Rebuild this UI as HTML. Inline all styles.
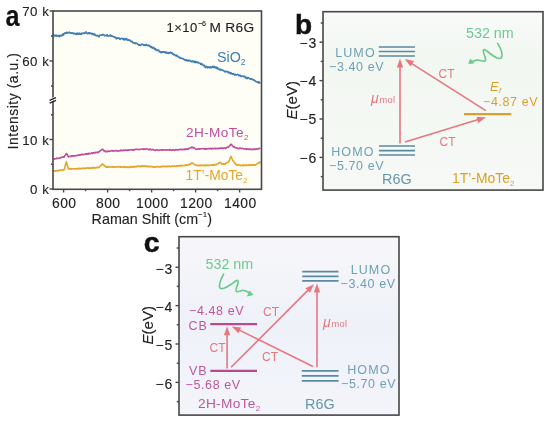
<!DOCTYPE html>
<html><head><meta charset="utf-8"><style>
html,body{margin:0;padding:0;background:#fff;width:550px;height:422px;overflow:hidden}
svg{display:block;filter:blur(0.3px)}
</style></head><body>
<svg width="550" height="422" viewBox="0 0 550 422">
<defs>
<linearGradient id="gb" x1="0" y1="0" x2="0" y2="1"><stop offset="0" stop-color="#f8fbf8"/><stop offset="0.25" stop-color="#f3f7f2"/><stop offset="1" stop-color="#f6f9f5"/></linearGradient>
<linearGradient id="gc" x1="0" y1="0" x2="0" y2="1"><stop offset="0" stop-color="#f7f7fa"/><stop offset="0.5" stop-color="#eff1f9"/><stop offset="1" stop-color="#f4f5fb"/></linearGradient>
</defs>
<rect x="53" y="11" width="208.5" height="178.3" fill="#fefef7"/>
<polyline points="53.5,35.3 54.0,35.1 54.4,36.0 54.9,35.2 55.3,35.9 55.8,35.7 56.2,35.3 56.7,36.1 57.2,35.4 57.6,36.1 58.1,35.6 58.5,35.7 59.0,36.3 59.5,36.7 59.9,35.4 60.4,35.3 60.9,35.7 61.4,36.0 61.8,35.2 62.3,34.7 62.8,35.3 63.2,33.7 63.7,34.7 64.2,33.6 64.6,33.2 65.1,32.9 65.6,33.0 66.1,33.5 66.5,32.3 67.0,32.7 67.5,32.9 67.9,32.5 68.4,32.8 68.8,32.2 69.3,32.2 69.8,32.5 70.2,33.2 70.7,32.9 71.2,32.8 71.6,33.3 72.1,33.1 72.5,32.9 73.0,33.7 73.5,33.7 73.9,33.0 74.4,33.6 74.8,33.6 75.3,34.1 75.8,34.0 76.2,33.4 76.7,34.5 77.2,33.2 77.6,33.7 78.1,34.3 78.5,33.4 79.0,34.0 79.5,33.2 79.9,34.1 80.4,34.1 80.9,33.7 81.3,34.1 81.8,33.2 82.3,33.6 82.7,33.4 83.2,33.3 83.7,33.0 84.1,33.5 84.6,33.5 85.1,32.7 85.5,32.9 86.0,31.9 86.5,33.0 86.9,33.0 87.4,33.7 87.9,33.5 88.4,32.8 88.8,33.1 89.3,33.6 89.8,32.7 90.2,33.5 90.7,33.2 91.2,33.2 91.6,33.2 92.1,34.4 92.6,33.5 93.1,33.8 93.5,34.1 94.0,35.0 94.5,33.9 94.9,34.7 95.4,35.0 95.8,35.6 96.3,35.7 96.7,35.9 97.2,35.2 97.6,35.6 98.1,35.7 98.5,36.6 99.0,36.9 99.5,35.5 100.0,35.3 100.5,35.2 101.0,35.0 101.5,35.2 102.0,35.1 102.5,34.7 102.9,34.3 103.4,35.0 103.9,34.9 104.4,35.3 104.8,35.9 105.3,35.5 105.8,35.3 106.2,35.5 106.7,35.6 107.2,34.7 107.6,36.0 108.1,35.9 108.6,36.1 109.1,36.0 109.5,35.4 110.0,35.4 110.5,35.2 110.9,36.2 111.4,35.5 111.8,35.8 112.3,36.2 112.8,36.3 113.2,36.8 113.7,36.5 114.2,36.7 114.6,37.1 115.1,37.2 115.5,37.8 116.0,37.5 116.5,38.8 116.9,38.5 117.4,37.8 117.8,38.0 118.3,38.2 118.8,38.3 119.2,38.0 119.7,39.2 120.2,39.4 120.6,38.7 121.1,38.8 121.5,38.2 122.0,38.3 122.5,38.7 122.9,38.7 123.4,39.6 123.8,38.6 124.3,38.5 124.8,39.9 125.2,39.3 125.7,38.8 126.2,39.4 126.6,38.7 127.1,39.5 127.5,40.3 128.0,40.1 128.5,40.1 128.9,39.7 129.4,40.1 129.8,40.0 130.3,41.1 130.7,41.0 131.2,41.6 131.6,41.2 132.1,41.2 132.5,42.3 133.0,42.8 133.5,42.9 133.9,43.0 134.4,43.3 134.8,43.4 135.3,42.8 135.7,43.5 136.2,43.5 136.6,43.2 137.1,43.4 137.5,44.0 138.0,44.2 138.5,44.9 138.9,45.3 139.4,44.6 139.8,45.3 140.3,45.4 140.7,45.4 141.2,44.5 141.6,44.3 142.1,44.4 142.5,44.3 143.0,44.4 143.5,45.0 143.9,45.4 144.4,45.4 144.8,44.8 145.3,45.1 145.7,45.4 146.2,44.3 146.6,45.2 147.1,45.6 147.5,45.4 148.0,45.4 148.5,45.2 148.9,45.1 149.4,46.2 149.9,45.8 150.3,46.8 150.8,47.3 151.3,46.7 151.7,47.0 152.2,48.1 152.7,48.0 153.1,47.4 153.6,47.6 154.1,47.9 154.5,49.3 155.0,49.5 155.5,48.7 155.9,50.0 156.4,50.4 156.8,50.2 157.3,49.9 157.8,50.5 158.2,50.1 158.7,50.1 159.2,51.8 159.6,51.5 160.1,51.6 160.5,52.4 161.0,51.9 161.5,52.6 161.9,52.6 162.4,51.7 162.8,51.8 163.3,51.9 163.7,51.9 164.2,52.4 164.6,52.0 165.1,52.3 165.5,51.9 166.0,53.1 166.5,52.3 166.9,52.5 167.4,52.8 167.8,53.3 168.3,52.6 168.7,53.4 169.2,52.8 169.6,52.9 170.1,52.9 170.5,52.2 171.0,52.9 171.5,52.8 171.9,52.7 172.4,54.1 172.8,53.4 173.3,54.1 173.7,54.7 174.2,54.7 174.6,54.6 175.1,55.1 175.5,55.4 176.0,55.9 176.5,55.1 176.9,56.0 177.4,55.8 177.8,56.1 178.3,57.0 178.7,56.9 179.2,57.2 179.6,57.7 180.1,58.2 180.5,57.7 181.0,58.2 181.5,58.2 181.9,58.4 182.4,58.8 182.9,58.6 183.4,58.9 183.8,59.0 184.3,59.9 184.8,59.7 185.2,60.2 185.7,60.4 186.2,59.6 186.6,60.2 187.1,61.0 187.6,61.0 188.1,60.1 188.5,60.3 189.0,60.9 189.5,60.4 189.9,60.7 190.4,60.5 190.9,61.5 191.4,61.7 191.8,61.9 192.3,60.9 192.8,61.8 193.2,61.8 193.7,61.1 194.2,62.2 194.6,62.4 195.1,61.3 195.6,62.5 196.1,61.7 196.5,61.9 197.0,62.7 197.5,62.7 197.9,62.0 198.4,62.6 198.8,63.0 199.3,63.0 199.7,63.0 200.2,63.4 200.6,64.3 201.1,63.5 201.5,64.5 202.0,64.6 202.5,64.2 202.9,64.9 203.4,65.6 203.8,65.7 204.3,65.3 204.7,66.9 205.2,66.9 205.6,67.4 206.1,66.3 206.5,66.8 207.0,66.7 207.5,67.8 207.9,67.0 208.4,66.8 208.9,67.2 209.4,67.9 209.8,67.7 210.3,66.9 210.8,66.7 211.2,67.8 211.7,67.3 212.2,67.4 212.6,66.5 213.1,66.4 213.6,67.4 214.1,66.9 214.5,66.4 215.0,67.7 215.5,67.4 215.9,67.9 216.4,67.1 216.9,68.5 217.4,67.5 217.8,69.0 218.3,68.6 218.8,68.6 219.2,69.2 219.7,70.0 220.2,69.2 220.6,69.3 221.1,70.1 221.6,69.9 222.1,69.9 222.5,70.3 223.0,70.3 223.5,70.7 223.9,71.0 224.4,71.1 224.8,71.9 225.3,71.3 225.8,71.8 226.2,71.4 226.7,71.8 227.2,71.5 227.6,71.9 228.1,71.7 228.5,72.9 229.0,72.8 229.5,72.4 229.9,72.9 230.4,73.7 230.8,72.6 231.3,73.8 231.8,73.4 232.2,73.6 232.7,74.2 233.2,73.7 233.6,74.0 234.1,74.4 234.5,75.0 235.0,74.2 235.5,75.0 235.9,74.9 236.4,75.0 236.8,74.7 237.3,74.8 237.7,74.4 238.2,74.7 238.6,74.7 239.1,75.8 239.5,75.2 240.0,75.2 240.5,75.2 240.9,76.4 241.4,76.6 241.8,76.4 242.3,76.0 242.7,76.0 243.2,76.2 243.6,76.6 244.1,76.2 244.5,76.8 245.0,76.6 245.5,77.9 245.9,78.1 246.4,77.6 246.8,77.3 247.3,78.6 247.7,77.8 248.2,78.0 248.6,77.7 249.1,78.4 249.6,78.7 250.0,78.9 250.5,78.7 250.9,79.3 251.4,78.7 251.8,79.3 252.3,79.2 252.8,79.8 253.2,79.5 253.7,79.6 254.1,80.2 254.6,80.3 255.0,81.0 255.5,81.1 255.9,81.6 256.4,81.6 256.9,81.9 257.3,82.3 257.8,81.8 258.2,81.9 258.7,83.0 259.1,81.9 259.6,83.0 260.0,83.0 260.5,83.0" fill="none" stroke="#3f7db3" stroke-width="1.6" stroke-linejoin="round"/>
<polyline points="53.5,158.6 54.0,159.2 54.5,159.1 55.0,158.8 55.5,158.8 56.0,158.8 56.5,158.1 57.0,158.4 57.5,158.2 58.0,158.4 58.5,158.3 59.0,158.2 59.5,157.9 60.0,158.1 60.5,157.8 61.0,157.7 61.5,157.3 62.0,157.0 62.5,157.0 63.0,157.1 63.5,156.8 64.0,157.3 64.6,156.1 65.2,155.3 65.8,154.4 66.4,153.5 66.9,154.2 67.4,154.6 67.9,156.0 68.4,156.8 68.9,156.5 69.4,156.5 69.9,156.5 70.4,156.0 70.9,156.4 71.4,156.0 71.9,155.8 72.4,155.9 72.9,156.2 73.4,155.7 73.9,156.0 74.5,156.1 75.0,155.7 75.5,155.5 76.0,155.5 76.5,155.6 77.0,155.6 77.5,155.4 78.0,155.4 78.5,154.9 79.0,154.9 79.5,154.9 80.0,155.2 80.5,154.8 81.0,154.9 81.5,154.4 82.0,154.3 82.5,154.4 83.0,154.7 83.5,154.6 84.0,154.5 84.5,154.1 85.0,154.2 85.5,154.1 86.0,154.0 86.5,153.7 87.0,154.2 87.5,153.6 88.0,154.1 88.5,154.0 89.0,153.2 89.5,153.5 90.0,153.7 90.5,153.7 91.0,153.2 91.5,153.0 92.0,152.9 92.5,153.4 93.0,152.7 93.5,152.9 94.0,152.5 94.5,152.7 95.0,153.0 95.5,152.3 96.0,152.7 96.5,152.4 97.0,152.6 97.5,152.4 98.0,151.9 98.5,152.4 99.0,152.0 99.6,151.2 100.1,150.7 100.7,150.7 101.3,150.2 101.8,149.7 102.4,149.1 102.9,149.7 103.4,150.1 104.0,150.9 104.5,150.6 105.0,151.6 105.5,151.6 106.0,151.0 106.5,151.7 107.0,151.5 107.5,151.6 108.0,151.1 108.5,151.1 109.0,151.1 109.5,151.5 110.0,151.2 110.5,151.0 111.0,151.0 111.5,150.9 112.0,150.6 112.5,150.7 113.0,151.2 113.5,150.8 114.0,151.2 114.5,150.7 115.0,150.7 115.5,150.8 116.0,150.5 116.5,150.7 117.0,151.1 117.5,151.0 118.0,150.9 118.5,150.7 119.0,150.9 119.5,150.9 120.0,150.6 120.5,150.7 121.0,150.1 121.5,150.7 122.0,150.4 122.5,150.6 123.0,150.5 123.5,150.2 124.0,150.0 124.5,150.6 125.0,150.0 125.5,150.2 126.0,150.1 126.5,150.0 127.0,150.4 127.5,150.5 128.0,149.9 128.5,150.2 129.0,149.9 129.5,150.1 130.0,149.9 130.5,149.7 131.0,149.7 131.5,149.7 132.0,150.2 132.5,149.8 133.0,149.6 133.5,150.1 134.0,150.1 134.5,149.7 135.0,149.4 135.5,149.4 136.0,149.3 136.5,149.5 137.0,149.2 137.5,149.3 138.0,149.3 138.5,149.5 139.0,149.7 139.5,149.6 140.0,149.3 140.5,149.3 141.0,149.3 141.5,149.2 142.0,149.1 142.5,148.9 143.0,149.0 143.5,149.5 144.0,148.8 144.5,149.1 145.0,149.2 145.5,149.3 146.0,148.8 146.5,148.9 147.0,148.9 147.5,149.1 148.0,149.2 148.5,149.6 149.0,149.6 149.5,149.7 150.0,149.1 150.5,149.1 151.0,149.7 151.5,149.9 152.0,149.6 152.5,149.8 153.0,149.4 153.5,149.7 154.0,150.2 154.5,150.2 155.0,150.3 155.5,150.4 156.0,149.8 156.5,149.7 157.0,149.7 157.5,150.0 158.0,150.1 158.5,150.4 159.0,150.2 159.5,150.1 160.0,150.2 160.5,150.0 161.0,150.0 161.5,149.6 162.0,150.2 162.5,149.8 163.0,150.3 163.5,150.1 164.0,149.8 164.5,149.7 165.0,149.8 165.5,150.1 166.0,150.2 166.5,149.7 167.0,149.7 167.5,150.0 168.0,150.1 168.5,149.9 169.0,149.8 169.5,150.1 170.0,149.6 170.5,149.8 171.0,150.0 171.5,150.4 172.0,150.1 172.5,150.3 173.0,150.0 173.5,149.8 174.0,149.8 174.5,150.4 175.0,150.2 175.5,149.8 176.0,149.5 176.5,149.9 177.0,150.0 177.5,149.7 178.0,149.6 178.5,149.9 179.0,150.0 179.5,149.4 180.0,149.2 180.5,149.4 181.0,149.5 181.5,149.6 182.0,149.2 182.5,149.7 183.0,149.6 183.5,149.4 184.0,149.1 184.5,149.6 185.0,149.1 185.5,149.4 186.0,148.9 186.5,148.9 187.0,149.3 187.5,148.9 188.0,149.4 188.5,148.8 189.0,148.3 189.5,148.1 190.0,148.0 190.5,148.0 191.0,148.0 191.5,147.1 192.0,147.1 192.5,147.2 193.0,148.0 193.5,147.6 194.0,147.7 194.5,148.0 195.0,148.5 195.5,149.1 196.0,149.3 196.5,149.2 197.0,149.4 197.5,149.3 198.0,148.8 198.5,148.7 199.0,149.3 199.5,149.1 200.0,148.5 200.5,149.0 201.0,148.8 201.5,148.8 202.0,148.7 202.5,148.6 203.0,148.5 203.5,148.7 204.0,148.7 204.5,149.2 205.0,148.5 205.5,149.2 206.0,148.6 206.5,148.7 207.0,149.0 207.5,149.0 208.0,148.7 208.5,148.4 209.0,148.7 209.5,148.6 210.0,149.0 210.5,148.4 211.0,148.6 211.5,149.0 212.0,148.3 212.5,148.6 213.0,148.9 213.5,148.8 214.0,148.3 214.5,148.2 215.0,148.3 215.5,148.9 216.0,148.4 216.5,148.7 217.0,148.8 217.5,148.3 218.0,148.3 218.5,148.8 219.0,148.5 219.5,148.2 220.0,148.5 220.5,148.2 221.0,148.1 221.5,147.8 222.0,148.4 222.5,148.5 223.0,148.3 223.5,148.5 224.0,147.7 224.5,147.9 225.0,148.0 225.5,148.4 226.0,148.4 226.5,147.7 227.0,147.3 227.5,147.2 228.0,147.0 228.5,147.1 229.0,146.2 229.5,146.1 230.0,145.4 230.5,144.9 231.0,144.2 231.5,144.7 232.0,145.1 232.5,145.7 233.0,146.4 233.5,147.0 234.0,146.7 234.5,147.0 235.0,147.7 235.5,147.5 236.0,147.7 236.5,147.7 237.0,148.1 237.5,148.0 238.0,148.6 238.5,148.5 239.0,148.7 239.5,148.1 240.0,148.0 240.5,148.1 241.0,148.5 241.5,148.7 242.0,148.5 242.5,148.4 243.0,148.6 243.5,148.8 244.0,148.9 244.5,149.0 245.0,149.1 245.5,149.0 246.0,148.6 246.5,149.3 247.0,148.9 247.5,149.1 248.0,149.0 248.5,149.4 249.0,149.0 249.5,149.1 250.0,149.1 250.5,149.1 251.0,149.7 251.5,149.4 252.0,149.2 252.5,149.2 253.0,149.6 253.5,149.2 254.0,148.9 254.5,149.4 255.0,149.2 255.5,149.4 256.0,148.7 256.5,148.9 257.0,149.2 257.5,149.1 258.0,149.1 258.5,148.4 259.0,148.6 259.5,148.4 260.0,148.4 260.5,148.6" fill="none" stroke="#bf4f9d" stroke-width="1.6" stroke-linejoin="round"/>
<polyline points="53.5,171.4 54.0,171.0 54.5,171.2 55.0,170.8 55.5,171.1 56.0,170.7 56.5,170.5 57.0,170.9 57.5,171.0 58.0,170.3 58.5,170.6 59.0,170.6 59.5,170.2 60.0,170.3 60.5,170.0 61.0,170.0 61.5,170.0 62.0,170.3 62.5,170.3 63.0,169.9 63.5,169.7 64.0,169.9 64.6,168.1 65.2,165.7 65.8,163.8 66.4,161.8 66.9,164.0 67.4,165.5 67.9,166.9 68.4,168.7 68.9,168.9 69.4,169.0 69.9,169.1 70.4,168.6 70.9,168.6 71.4,169.1 71.9,168.8 72.4,168.7 72.9,168.7 73.4,169.2 73.9,168.7 74.5,168.8 75.0,168.7 75.5,168.7 76.0,169.0 76.5,169.1 77.0,168.6 77.5,168.4 78.0,168.9 78.5,168.4 79.0,168.2 79.5,168.9 80.0,168.5 80.5,168.8 81.0,168.5 81.5,168.8 82.0,168.4 82.5,168.2 83.0,168.0 83.5,168.4 84.0,168.5 84.5,168.6 85.0,168.0 85.5,168.4 86.0,168.1 86.5,168.2 87.0,167.9 87.5,168.0 88.0,168.1 88.5,168.4 89.0,167.7 89.5,168.0 90.0,168.2 90.5,168.3 91.0,167.7 91.5,167.6 92.0,168.2 92.5,168.2 93.0,167.8 93.5,167.4 94.0,168.1 94.5,167.6 95.0,168.0 95.5,167.7 96.0,167.8 96.5,167.3 97.0,167.8 97.5,167.3 98.0,167.4 98.5,167.7 99.0,167.7 99.6,166.6 100.1,166.0 100.7,165.6 101.3,165.1 101.8,164.5 102.4,163.7 102.9,164.2 103.4,165.0 103.9,165.6 104.5,165.3 105.0,166.2 105.5,166.8 106.0,166.6 106.5,167.3 107.0,166.7 107.5,167.1 108.0,167.0 108.5,167.1 109.0,166.8 109.5,166.9 110.0,167.1 110.5,166.9 111.0,167.1 111.5,167.0 112.0,167.0 112.5,166.6 113.0,167.1 113.5,167.0 114.0,166.8 114.5,167.2 115.0,167.2 115.5,167.0 116.0,166.7 116.5,167.0 117.0,166.7 117.5,166.7 118.0,166.9 118.5,166.7 119.0,167.0 119.5,167.0 120.0,166.6 120.5,167.1 121.0,166.7 121.5,167.2 122.0,167.2 122.5,167.0 123.0,166.6 123.5,167.0 124.0,166.9 124.5,167.4 125.0,166.7 125.5,167.3 126.0,167.4 126.5,167.2 127.0,167.3 127.5,166.8 128.0,167.4 128.5,167.0 129.0,167.4 129.5,167.3 130.0,166.7 130.5,167.2 131.0,167.3 131.5,166.5 132.0,166.7 132.5,167.0 133.0,166.5 133.5,167.1 134.0,166.5 134.5,166.9 135.0,166.4 135.5,166.6 136.0,166.9 136.5,166.3 137.0,166.3 137.5,166.5 138.0,166.3 138.5,166.0 139.0,166.1 139.5,166.1 140.0,166.6 140.5,166.4 141.0,166.5 141.5,165.9 142.0,166.4 142.5,165.8 143.0,166.1 143.5,166.1 144.0,165.9 144.5,166.3 145.0,166.1 145.5,166.2 146.0,166.5 146.5,165.9 147.0,166.7 147.5,166.4 148.0,166.3 148.5,166.6 149.0,166.3 149.5,166.9 150.0,166.6 150.5,166.5 151.0,166.8 151.5,166.6 152.0,166.5 152.5,167.0 153.0,166.5 153.5,167.1 154.0,166.7 154.5,167.1 155.0,167.4 155.5,167.0 156.0,167.1 156.5,166.8 157.0,166.5 157.5,166.5 158.0,166.6 158.5,166.9 159.0,166.8 159.5,166.8 160.0,167.1 160.5,166.5 161.0,166.5 161.5,166.9 162.0,166.3 162.5,166.3 163.0,166.6 163.5,166.3 164.0,166.5 164.5,166.4 165.0,166.7 165.5,166.6 166.0,166.3 166.5,166.6 167.0,166.5 167.5,166.2 168.0,166.8 168.5,166.2 169.0,166.1 169.5,166.1 170.0,166.5 170.5,166.7 171.0,166.6 171.5,166.2 172.0,166.1 172.5,165.9 173.0,166.4 173.5,166.3 174.0,166.1 174.5,166.3 175.0,166.1 175.5,166.5 176.0,166.3 176.5,165.9 177.0,166.4 177.5,165.7 178.0,166.1 178.5,165.9 179.0,165.8 179.5,165.6 180.0,166.1 180.5,165.4 181.0,165.8 181.5,166.1 182.0,165.4 182.5,165.4 183.0,165.6 183.5,165.5 184.0,165.6 184.5,165.6 185.0,165.1 185.5,165.1 186.0,165.1 186.5,164.8 187.0,165.4 187.5,165.3 188.0,165.2 188.5,164.4 189.0,164.8 189.5,164.5 190.0,164.1 190.5,164.1 191.0,163.6 191.5,163.2 192.0,162.9 192.5,163.2 193.0,163.3 193.5,163.8 194.0,164.3 194.5,164.5 195.0,164.9 195.5,165.0 196.0,164.9 196.5,165.3 197.0,165.4 197.5,165.7 198.0,165.5 198.5,165.3 199.0,165.6 199.5,165.8 200.0,165.2 200.5,165.7 201.0,165.0 201.5,165.2 202.0,165.1 202.5,165.5 203.0,165.7 203.5,165.5 204.0,165.2 204.5,165.6 205.0,165.1 205.5,165.1 206.0,165.6 206.5,165.3 207.0,165.4 207.5,165.3 208.0,165.6 208.5,165.2 209.0,165.4 209.5,165.3 210.0,165.4 210.5,165.1 211.0,165.3 211.5,165.2 212.0,164.9 212.5,164.8 213.0,165.2 213.5,164.7 214.0,165.4 214.5,164.7 215.0,164.6 215.5,164.5 216.0,165.0 216.5,164.4 217.0,164.0 217.5,163.8 218.0,163.6 218.5,163.7 219.0,163.1 219.5,162.7 220.0,162.2 220.5,162.2 221.0,163.1 221.5,163.4 222.0,164.3 222.5,164.2 223.0,164.3 223.5,163.6 224.0,164.2 224.5,164.2 225.0,164.2 225.5,163.5 226.0,163.6 226.5,163.0 227.0,162.5 227.5,162.7 228.0,162.2 228.5,161.6 229.0,161.3 229.5,160.0 230.0,158.6 230.5,157.4 231.0,156.3 231.5,157.9 232.0,158.6 232.5,159.8 233.0,160.9 233.5,161.2 234.0,162.0 234.5,162.6 235.0,163.5 235.5,163.8 236.0,164.4 236.5,165.0 237.0,164.7 237.5,165.1 238.0,165.0 238.5,164.6 239.0,165.0 239.5,165.1 240.0,165.4 240.5,165.2 241.0,165.6 241.5,165.4 242.0,165.1 242.5,165.6 243.0,165.0 243.5,165.6 244.0,165.1 244.5,164.9 245.0,165.0 245.5,165.5 246.0,165.6 246.5,164.8 247.0,165.2 247.5,165.2 248.0,165.4 248.5,164.9 249.0,165.2 249.5,165.0 250.0,165.4 250.5,164.9 251.0,165.5 251.5,164.9 252.0,164.9 252.5,165.2 253.0,165.1 253.5,164.7 254.0,165.1 254.5,164.7 255.0,165.2 255.5,164.9 256.0,164.7 256.5,164.3 257.0,163.8 257.5,163.6 258.0,163.3 258.5,163.4 259.0,162.5 259.5,162.9 260.0,161.9 260.5,162.0" fill="none" stroke="#e2a52e" stroke-width="1.6" stroke-linejoin="round"/>
<rect x="53" y="11" width="208.5" height="178.3" fill="none" stroke="#474747" stroke-width="1.6"/>
<line x1="49.5" y1="11" x2="53" y2="11" stroke="#474747" stroke-width="1.4"/>
<line x1="49.5" y1="61" x2="53" y2="61" stroke="#474747" stroke-width="1.4"/>
<line x1="49.5" y1="139.5" x2="53" y2="139.5" stroke="#474747" stroke-width="1.4"/>
<line x1="49.5" y1="189" x2="53" y2="189" stroke="#474747" stroke-width="1.4"/>
<line x1="51" y1="36" x2="53" y2="36" stroke="#474747" stroke-width="1.4"/>
<line x1="51" y1="86" x2="53" y2="86" stroke="#474747" stroke-width="1.4"/>
<line x1="51" y1="114.7" x2="53" y2="114.7" stroke="#474747" stroke-width="1.4"/>
<line x1="51" y1="164.3" x2="53" y2="164.3" stroke="#474747" stroke-width="1.4"/>
<line x1="63.6" y1="189" x2="63.6" y2="192.5" stroke="#474747" stroke-width="1.4"/>
<line x1="107.6" y1="189" x2="107.6" y2="192.5" stroke="#474747" stroke-width="1.4"/>
<line x1="151.6" y1="189" x2="151.6" y2="192.5" stroke="#474747" stroke-width="1.4"/>
<line x1="195.6" y1="189" x2="195.6" y2="192.5" stroke="#474747" stroke-width="1.4"/>
<line x1="239.6" y1="189" x2="239.6" y2="192.5" stroke="#474747" stroke-width="1.4"/>
<line x1="85.6" y1="189" x2="85.6" y2="191.2" stroke="#474747" stroke-width="1.4"/>
<line x1="129.6" y1="189" x2="129.6" y2="191.2" stroke="#474747" stroke-width="1.4"/>
<line x1="173.6" y1="189" x2="173.6" y2="191.2" stroke="#474747" stroke-width="1.4"/>
<line x1="217.6" y1="189" x2="217.6" y2="191.2" stroke="#474747" stroke-width="1.4"/>
<rect x="47" y="98.2" width="9" height="3.2" fill="#ffffff" transform="rotate(-22 51.5 100)"/>
<line x1="49.6" y1="100.4" x2="56" y2="97.6" stroke="#222" stroke-width="1.3"/>
<line x1="49.6" y1="103.2" x2="56" y2="100.4" stroke="#222" stroke-width="1.3"/>
<text stroke="#111" stroke-width="0.12" transform="translate(5.6 26.2) scale(0.9 1.06)" font-family="'Liberation Sans', sans-serif" font-size="28" font-weight="bold" fill="#111">a</text>
<text stroke="#222" stroke-width="0.12" x="49.5" y="16.2" font-family="'Liberation Sans', sans-serif" font-size="13.3" letter-spacing="0.55" fill="#222" text-anchor="end">70 k</text>
<text stroke="#222" stroke-width="0.12" x="49.5" y="66.2" font-family="'Liberation Sans', sans-serif" font-size="13.3" letter-spacing="0.55" fill="#222" text-anchor="end">60 k</text>
<text stroke="#222" stroke-width="0.12" x="49.5" y="144.7" font-family="'Liberation Sans', sans-serif" font-size="13.3" letter-spacing="0.55" fill="#222" text-anchor="end">10 k</text>
<text stroke="#222" stroke-width="0.12" x="49.5" y="194.2" font-family="'Liberation Sans', sans-serif" font-size="13.3" letter-spacing="0.55" fill="#222" text-anchor="end">0 k</text>
<text stroke="#222" stroke-width="0.12" x="64.3" y="208" font-family="'Liberation Sans', sans-serif" font-size="13.9" letter-spacing="0.4" fill="#222" text-anchor="middle">600</text>
<text stroke="#222" stroke-width="0.12" x="108.3" y="208" font-family="'Liberation Sans', sans-serif" font-size="13.9" letter-spacing="0.4" fill="#222" text-anchor="middle">800</text>
<text stroke="#222" stroke-width="0.12" x="152.3" y="208" font-family="'Liberation Sans', sans-serif" font-size="13.9" letter-spacing="0.4" fill="#222" text-anchor="middle">1000</text>
<text stroke="#222" stroke-width="0.12" x="196.3" y="208" font-family="'Liberation Sans', sans-serif" font-size="13.9" letter-spacing="0.4" fill="#222" text-anchor="middle">1200</text>
<text stroke="#222" stroke-width="0.12" x="240.3" y="208" font-family="'Liberation Sans', sans-serif" font-size="13.9" letter-spacing="0.4" fill="#222" text-anchor="middle">1400</text>
<text stroke="#222" stroke-width="0.12" x="151.8" y="223.6" font-family="'Liberation Sans', sans-serif" font-size="14.3" fill="#222" text-anchor="middle">Raman Shift (cm<tspan font-size="8" dy="-6.5">−1</tspan><tspan dy="6.5">)</tspan></text>
<text stroke="#222" stroke-width="0.12" transform="translate(17.8 101) rotate(-90)" font-family="'Liberation Sans', sans-serif" font-size="13.9" letter-spacing="0.55" fill="#222" text-anchor="middle">Intensity (a.u.)</text>
<text stroke="#222" stroke-width="0.12" x="166.4" y="32.3" font-family="'Liberation Sans', sans-serif" font-size="13" letter-spacing="0.55" fill="#222">1×10<tspan font-size="7.2" dy="-6" letter-spacing="0">−6</tspan><tspan dy="6" dx="-0.8" letter-spacing="0.35" font-size="13.7"> M R6G</tspan></text>
<text x="217" y="61.9" font-family="'Liberation Sans', sans-serif" font-size="14.3" fill="#3f7db3">SiO<tspan font-size="8.5" dy="3">2</tspan></text>
<text x="186" y="136.7" font-family="'Liberation Sans', sans-serif" font-size="13.6" letter-spacing="0.4" fill="#bf4f9d">2H-MoTe<tspan font-size="8" dy="3">2</tspan></text>
<text x="185.5" y="180" font-family="'Liberation Sans', sans-serif" font-size="13.8" fill="#e2a52e">1T’-MoTe<tspan font-size="8" dy="3">2</tspan></text>
<rect x="323" y="11.7" width="220" height="178.4" fill="url(#gb)" stroke="#474747" stroke-width="1.6"/>
<line x1="319.5" y1="42.2" x2="323" y2="42.2" stroke="#474747" stroke-width="1.4"/>
<text stroke="#222" stroke-width="0.12" x="316.2" y="47.5" font-family="'Liberation Sans', sans-serif" font-size="14" fill="#222" text-anchor="end">−<tspan dx="0.8">3</tspan></text>
<line x1="319.5" y1="80.6" x2="323" y2="80.6" stroke="#474747" stroke-width="1.4"/>
<text stroke="#222" stroke-width="0.12" x="316.2" y="85.9" font-family="'Liberation Sans', sans-serif" font-size="14" fill="#222" text-anchor="end">−<tspan dx="0.8">4</tspan></text>
<line x1="319.5" y1="119.0" x2="323" y2="119.0" stroke="#474747" stroke-width="1.4"/>
<text stroke="#222" stroke-width="0.12" x="316.2" y="124.3" font-family="'Liberation Sans', sans-serif" font-size="14" fill="#222" text-anchor="end">−<tspan dx="0.8">5</tspan></text>
<line x1="319.5" y1="157.4" x2="323" y2="157.4" stroke="#474747" stroke-width="1.4"/>
<text stroke="#222" stroke-width="0.12" x="316.2" y="162.7" font-family="'Liberation Sans', sans-serif" font-size="14" fill="#222" text-anchor="end">−<tspan dx="0.8">6</tspan></text>
<line x1="320.7" y1="23.0" x2="323" y2="23.0" stroke="#474747" stroke-width="1.4"/>
<line x1="320.7" y1="61.4" x2="323" y2="61.4" stroke="#474747" stroke-width="1.4"/>
<line x1="320.7" y1="99.8" x2="323" y2="99.8" stroke="#474747" stroke-width="1.4"/>
<line x1="320.7" y1="138.2" x2="323" y2="138.2" stroke="#474747" stroke-width="1.4"/>
<line x1="320.7" y1="176.6" x2="323" y2="176.6" stroke="#474747" stroke-width="1.4"/>
<text stroke="#222" stroke-width="0.12" transform="translate(296.5 100.3) rotate(-90)" font-family="'Liberation Sans', sans-serif" font-size="15" fill="#222" text-anchor="middle"><tspan font-style="italic">E</tspan>(eV)</text>
<text x="295" y="33.8" font-family="'Liberation Sans', sans-serif" font-size="28" font-weight="bold" fill="#111" stroke="#111" stroke-width="0.5">b</text>
<line x1="378.8" y1="47" x2="415" y2="47" stroke="#5b8a9f" stroke-width="1.7"/>
<line x1="378.8" y1="51.5" x2="415" y2="51.5" stroke="#5b8a9f" stroke-width="1.7"/>
<line x1="378.8" y1="56" x2="415" y2="56" stroke="#5b8a9f" stroke-width="1.7"/>
<line x1="379" y1="146" x2="415" y2="146" stroke="#5b8a9f" stroke-width="1.7"/>
<line x1="379" y1="150.6" x2="415" y2="150.6" stroke="#5b8a9f" stroke-width="1.7"/>
<line x1="379" y1="155" x2="415" y2="155" stroke="#5b8a9f" stroke-width="1.7"/>
<line x1="464" y1="114.1" x2="511.3" y2="114.1" stroke="#dca02a" stroke-width="2.2"/>
<line x1="400.0" y1="143.6" x2="400.0" y2="66.5" stroke="#e6777e" stroke-width="1.6"/>
<polygon points="400.0,58.5 403.2,67.5 396.8,67.5" fill="#e6777e"/>
<line x1="485.8" y1="110.7" x2="411.4" y2="63.3" stroke="#e6777e" stroke-width="1.6"/>
<polygon points="404.7,59.0 414.0,61.1 410.6,66.5" fill="#e6777e"/>
<line x1="405.0" y1="142.0" x2="478.3" y2="119.6" stroke="#e6777e" stroke-width="1.6"/>
<polygon points="486.0,117.3 478.3,123.0 476.5,116.9" fill="#e6777e"/>
<text x="335.2" y="56.5" font-family="'Liberation Sans', sans-serif" font-size="12.5" letter-spacing="1.1" fill="#6fa0b4">LUMO</text>
<text x="329" y="70.6" font-family="'Liberation Sans', sans-serif" font-size="12.5" letter-spacing="0.6" fill="#6fa0b4">−3.40 eV</text>
<text x="331.2" y="155.6" font-family="'Liberation Sans', sans-serif" font-size="12.5" letter-spacing="1.1" fill="#6fa0b4">HOMO</text>
<text x="329" y="169.9" font-family="'Liberation Sans', sans-serif" font-size="12.5" letter-spacing="0.6" fill="#6fa0b4">−5.70 eV</text>
<text x="382" y="184.2" font-family="'Liberation Sans', sans-serif" font-size="14.4" fill="#6696ab">R6G</text>
<text x="452" y="183.3" font-family="'Liberation Sans', sans-serif" font-size="13.9" fill="#dca02a">1T’-MoTe<tspan font-size="8" dy="3">2</tspan></text>
<text x="490" y="90.8" font-family="'Liberation Sans', sans-serif" font-size="13" font-style="italic" fill="#dca02a">E<tspan font-size="7.5" dy="1.8" dx="0.3">f</tspan></text>
<text x="483" y="105.6" font-family="'Liberation Sans', sans-serif" font-size="12.5" letter-spacing="0.6" fill="#dca02a">−4.87 eV</text>
<text x="371" y="102.9" font-family="'Liberation Sans', sans-serif" font-size="14" font-style="italic" fill="#e6777e">μ<tspan font-style="normal" font-size="9.3" dx="0.8" letter-spacing="0.25">mol</tspan></text>
<text x="438.5" y="78.2" font-family="'Liberation Sans', sans-serif" font-size="12" fill="#e6777e">CT</text>
<text x="439.5" y="146.4" font-family="'Liberation Sans', sans-serif" font-size="12" fill="#e6777e">CT</text>
<text x="466" y="37.8" font-family="'Liberation Sans', sans-serif" font-size="14.3" fill="#6ccb8c">532 nm</text>
<path d="M497.6,43.4 C500.5,48 503,54 501.5,57.5 C500,60 495,57.5 490,53.5 C486,50 484,48.5 483.3,50.5 C482.6,53 486.5,58 485.5,60.5 C484.5,62.5 480,59.5 476.5,60.2 C474,60.8 472,62 470.5,62.8" fill="none" stroke="#6ccb8c" stroke-width="1.7" stroke-linecap="round"/>
<polygon points="468,63.8 470.4,58.6 474.5,63.6" fill="#6ccb8c"/>
<rect x="179" y="236.7" width="220" height="178.4" fill="url(#gc)" stroke="#474747" stroke-width="1.6"/>
<line x1="175.5" y1="267.2" x2="179" y2="267.2" stroke="#474747" stroke-width="1.4"/>
<text stroke="#222" stroke-width="0.12" x="172.2" y="273.6" font-family="'Liberation Sans', sans-serif" font-size="14" fill="#222" text-anchor="end">−<tspan dx="0.8">3</tspan></text>
<line x1="175.5" y1="305.6" x2="179" y2="305.6" stroke="#474747" stroke-width="1.4"/>
<text stroke="#222" stroke-width="0.12" x="172.2" y="312.0" font-family="'Liberation Sans', sans-serif" font-size="14" fill="#222" text-anchor="end">−<tspan dx="0.8">4</tspan></text>
<line x1="175.5" y1="344.0" x2="179" y2="344.0" stroke="#474747" stroke-width="1.4"/>
<text stroke="#222" stroke-width="0.12" x="172.2" y="350.4" font-family="'Liberation Sans', sans-serif" font-size="14" fill="#222" text-anchor="end">−<tspan dx="0.8">5</tspan></text>
<line x1="175.5" y1="382.4" x2="179" y2="382.4" stroke="#474747" stroke-width="1.4"/>
<text stroke="#222" stroke-width="0.12" x="172.2" y="388.8" font-family="'Liberation Sans', sans-serif" font-size="14" fill="#222" text-anchor="end">−<tspan dx="0.8">6</tspan></text>
<line x1="176.7" y1="248.0" x2="179" y2="248.0" stroke="#474747" stroke-width="1.4"/>
<line x1="176.7" y1="286.4" x2="179" y2="286.4" stroke="#474747" stroke-width="1.4"/>
<line x1="176.7" y1="324.8" x2="179" y2="324.8" stroke="#474747" stroke-width="1.4"/>
<line x1="176.7" y1="363.2" x2="179" y2="363.2" stroke="#474747" stroke-width="1.4"/>
<line x1="176.7" y1="401.6" x2="179" y2="401.6" stroke="#474747" stroke-width="1.4"/>
<text stroke="#222" stroke-width="0.12" transform="translate(152.5 325.29999999999995) rotate(-90)" font-family="'Liberation Sans', sans-serif" font-size="15" fill="#222" text-anchor="middle"><tspan font-style="italic">E</tspan>(eV)</text>
<text x="143.8" y="252.3" font-family="'Liberation Sans', sans-serif" font-size="28.5" font-weight="bold" fill="#111" stroke="#111" stroke-width="0.5">c</text>
<line x1="302.2" y1="271.7" x2="338.5" y2="271.7" stroke="#5b8a9f" stroke-width="1.7"/>
<line x1="302.2" y1="276.3" x2="338.5" y2="276.3" stroke="#5b8a9f" stroke-width="1.7"/>
<line x1="302.2" y1="280.8" x2="338.5" y2="280.8" stroke="#5b8a9f" stroke-width="1.7"/>
<line x1="301.8" y1="370.9" x2="338.6" y2="370.9" stroke="#5b8a9f" stroke-width="1.7"/>
<line x1="301.8" y1="375.8" x2="338.6" y2="375.8" stroke="#5b8a9f" stroke-width="1.7"/>
<line x1="301.8" y1="380.8" x2="338.6" y2="380.8" stroke="#5b8a9f" stroke-width="1.7"/>
<line x1="210.3" y1="324.1" x2="257.1" y2="324.1" stroke="#b94a92" stroke-width="2.2"/>
<line x1="210.3" y1="370.8" x2="257" y2="370.8" stroke="#b94a92" stroke-width="2.2"/>
<line x1="227.1" y1="368.5" x2="227.1" y2="334.3" stroke="#e6777e" stroke-width="1.6"/>
<polygon points="227.1,326.3 230.3,335.3 223.9,335.3" fill="#e6777e"/>
<line x1="231.0" y1="367.3" x2="308.3" y2="289.9" stroke="#e6777e" stroke-width="1.6"/>
<polygon points="314.0,284.2 309.9,292.8 305.4,288.3" fill="#e6777e"/>
<line x1="313.0" y1="366.5" x2="238.9" y2="329.9" stroke="#e6777e" stroke-width="1.6"/>
<polygon points="231.7,326.4 241.2,327.5 238.4,333.3" fill="#e6777e"/>
<line x1="317.0" y1="367.3" x2="317.0" y2="291.5" stroke="#e6777e" stroke-width="1.6"/>
<polygon points="317.0,283.5 320.2,292.5 313.8,292.5" fill="#e6777e"/>
<text x="205.5" y="268.6" font-family="'Liberation Sans', sans-serif" font-size="14.3" fill="#6ccb8c">532 nm</text>
<path d="M223.5,274.2 C221,279 219,284 219.6,287.3 C220.5,290.5 226,287.8 231.6,284 C235,281.5 237.5,279 238.2,281.5 C238.5,284 235,289 236.3,291.2 C237.5,293 240.5,290 244,290.5 C246,290.8 248,292 249.5,293" fill="none" stroke="#6ccb8c" stroke-width="1.7" stroke-linecap="round"/>
<polygon points="253.5,295 246.8,296.6 249.6,290.4" fill="#6ccb8c"/>
<text x="189" y="314.6" font-family="'Liberation Sans', sans-serif" font-size="12.5" letter-spacing="0.6" fill="#bb589b">−4.48 eV</text>
<text x="188.5" y="329.6" font-family="'Liberation Sans', sans-serif" font-size="12.5" letter-spacing="0.9" fill="#bb589b">CB</text>
<text x="189" y="374.7" font-family="'Liberation Sans', sans-serif" font-size="12.5" letter-spacing="0.9" fill="#bb589b">VB</text>
<text x="185.6" y="389.3" font-family="'Liberation Sans', sans-serif" font-size="12.5" letter-spacing="0.6" fill="#bb589b">−5.68 eV</text>
<text x="198" y="407.5" font-family="'Liberation Sans', sans-serif" font-size="13.7" letter-spacing="0.3" fill="#bb589b">2H-MoTe<tspan font-size="8" dy="3">2</tspan></text>
<text x="350.7" y="274.1" font-family="'Liberation Sans', sans-serif" font-size="12.5" letter-spacing="1.1" fill="#6fa0b4">LUMO</text>
<text x="340.5" y="287.7" font-family="'Liberation Sans', sans-serif" font-size="12.5" letter-spacing="0.6" fill="#6fa0b4">−3.40 eV</text>
<text x="347.2" y="374.1" font-family="'Liberation Sans', sans-serif" font-size="12.5" letter-spacing="1.1" fill="#6fa0b4">HOMO</text>
<text x="341" y="387.7" font-family="'Liberation Sans', sans-serif" font-size="12.5" letter-spacing="0.6" fill="#6fa0b4">−5.70 eV</text>
<text x="305" y="409" font-family="'Liberation Sans', sans-serif" font-size="14.4" fill="#6696ab">R6G</text>
<text x="323" y="327.4" font-family="'Liberation Sans', sans-serif" font-size="14" font-style="italic" fill="#e6777e">μ<tspan font-style="normal" font-size="9.3" dx="0.8" letter-spacing="0.25">mol</tspan></text>
<text x="209.5" y="351.7" font-family="'Liberation Sans', sans-serif" font-size="12" fill="#e6777e">CT</text>
<text x="263" y="316.3" font-family="'Liberation Sans', sans-serif" font-size="12" fill="#e6777e">CT</text>
<text x="262" y="361" font-family="'Liberation Sans', sans-serif" font-size="12" fill="#e6777e">CT</text>
</svg>
</body></html>
